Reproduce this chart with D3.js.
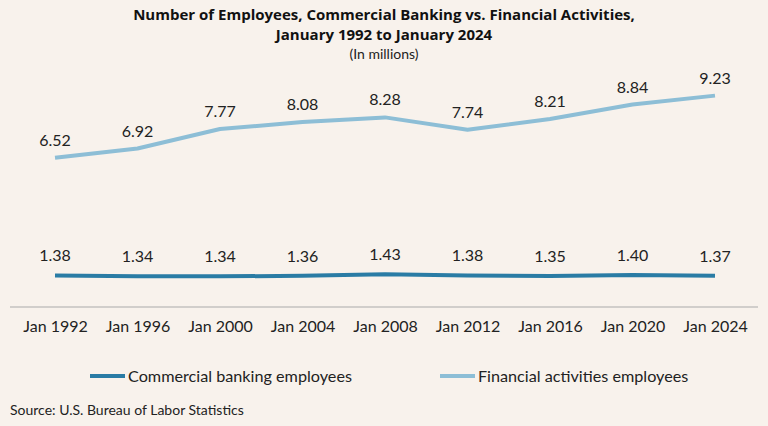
<!DOCTYPE html>
<html><head><meta charset="utf-8">
<script src="https://cdn.jsdelivr.net/npm/d3@7"></script>
<style>
body{margin:0;background:#f8f2ec;}
svg{display:block;font-family:Lato, "Noto Sans", sans-serif;}
</style></head>
<body>
<svg id="c" width="768" height="426"></svg>
<script>
const categories = ["Jan 1992","Jan 1996","Jan 2000","Jan 2004","Jan 2008","Jan 2012","Jan 2016","Jan 2020","Jan 2024"];
const commercialBanking = [1.38,1.34,1.34,1.36,1.43,1.38,1.35,1.40,1.37];
const financialActivities = [6.52,6.92,7.77,8.08,8.28,7.74,8.21,8.84,9.23];
const seriesNames = ["Commercial banking employees","Financial activities employees"];
const colors = ["#2a7ca5","#8dbed6"];

const svg = d3.select("#c");
svg.append("rect").attr("width",768).attr("height",426).attr("fill","#f8f2ec");

const x = d3.scalePoint().domain(categories).range([55,715]);
const y = d3.scaleLinear().domain([0,10]).range([307,78]);

// title
const t = svg.append("g").attr("text-anchor","middle").attr("fill","#111");
t.append("text").attr("x",384).attr("y",19.5).attr("font-weight","bold").attr("font-size",15).attr("font-family","'Open Sans', sans-serif").text("Number of Employees, Commercial Banking  vs. Financial Activities,");
t.append("text").attr("x",384).attr("y",40).attr("font-weight","bold").attr("font-size",15).attr("font-family","'Open Sans', sans-serif").text("January 1992 to January 2024");
t.append("text").attr("x",384).attr("y",59).attr("font-size",14).attr("fill","#222").text("(In millions)");

// axis
const xAxis = d3.axisBottom(x).tickSize(0).tickPadding(14);
const ax = svg.append("g").attr("transform","translate(0,307)").call(xAxis);
ax.select(".domain").remove();
ax.selectAll("text").attr("font-size",16).attr("fill","#222").attr("font-family","Lato, 'Noto Sans', sans-serif");
svg.append("line").attr("x1",10).attr("x2",758).attr("y1",307).attr("y2",307).attr("stroke","#aaa").attr("stroke-width",1.2);

const line = d3.line().x((d,i)=>x(categories[i])).y(d=>y(d));
[commercialBanking, financialActivities].forEach((s,k)=>{
  svg.append("path").datum(s).attr("d",line).attr("fill","none").attr("stroke",colors[k]).attr("stroke-width",4).attr("stroke-linejoin","round");
  svg.append("g").selectAll("text").data(s).join("text")
    .attr("x",(d,i)=>x(categories[i])).attr("y",d=>y(d)-(k===0?14:12))
    .attr("text-anchor","middle").attr("font-size",16).attr("fill","#222")
    .text(d=>d.toFixed(2));
});

// legend
const lg = svg.append("g");
const legX = [90,440];
seriesNames.forEach((n,k)=>{
  lg.append("line").attr("x1",legX[k]).attr("x2",legX[k]+35).attr("y1",376).attr("y2",376).attr("stroke",colors[k]).attr("stroke-width",4);
  lg.append("text").attr("x",legX[k]+38).attr("y",382).attr("font-size",16.2).attr("fill","#222").text(n);
});

svg.append("text").attr("x",10).attr("y",415).attr("font-size",14).attr("fill","#222").text("Source: U.S. Bureau of Labor Statistics");
</script>
</body></html>
